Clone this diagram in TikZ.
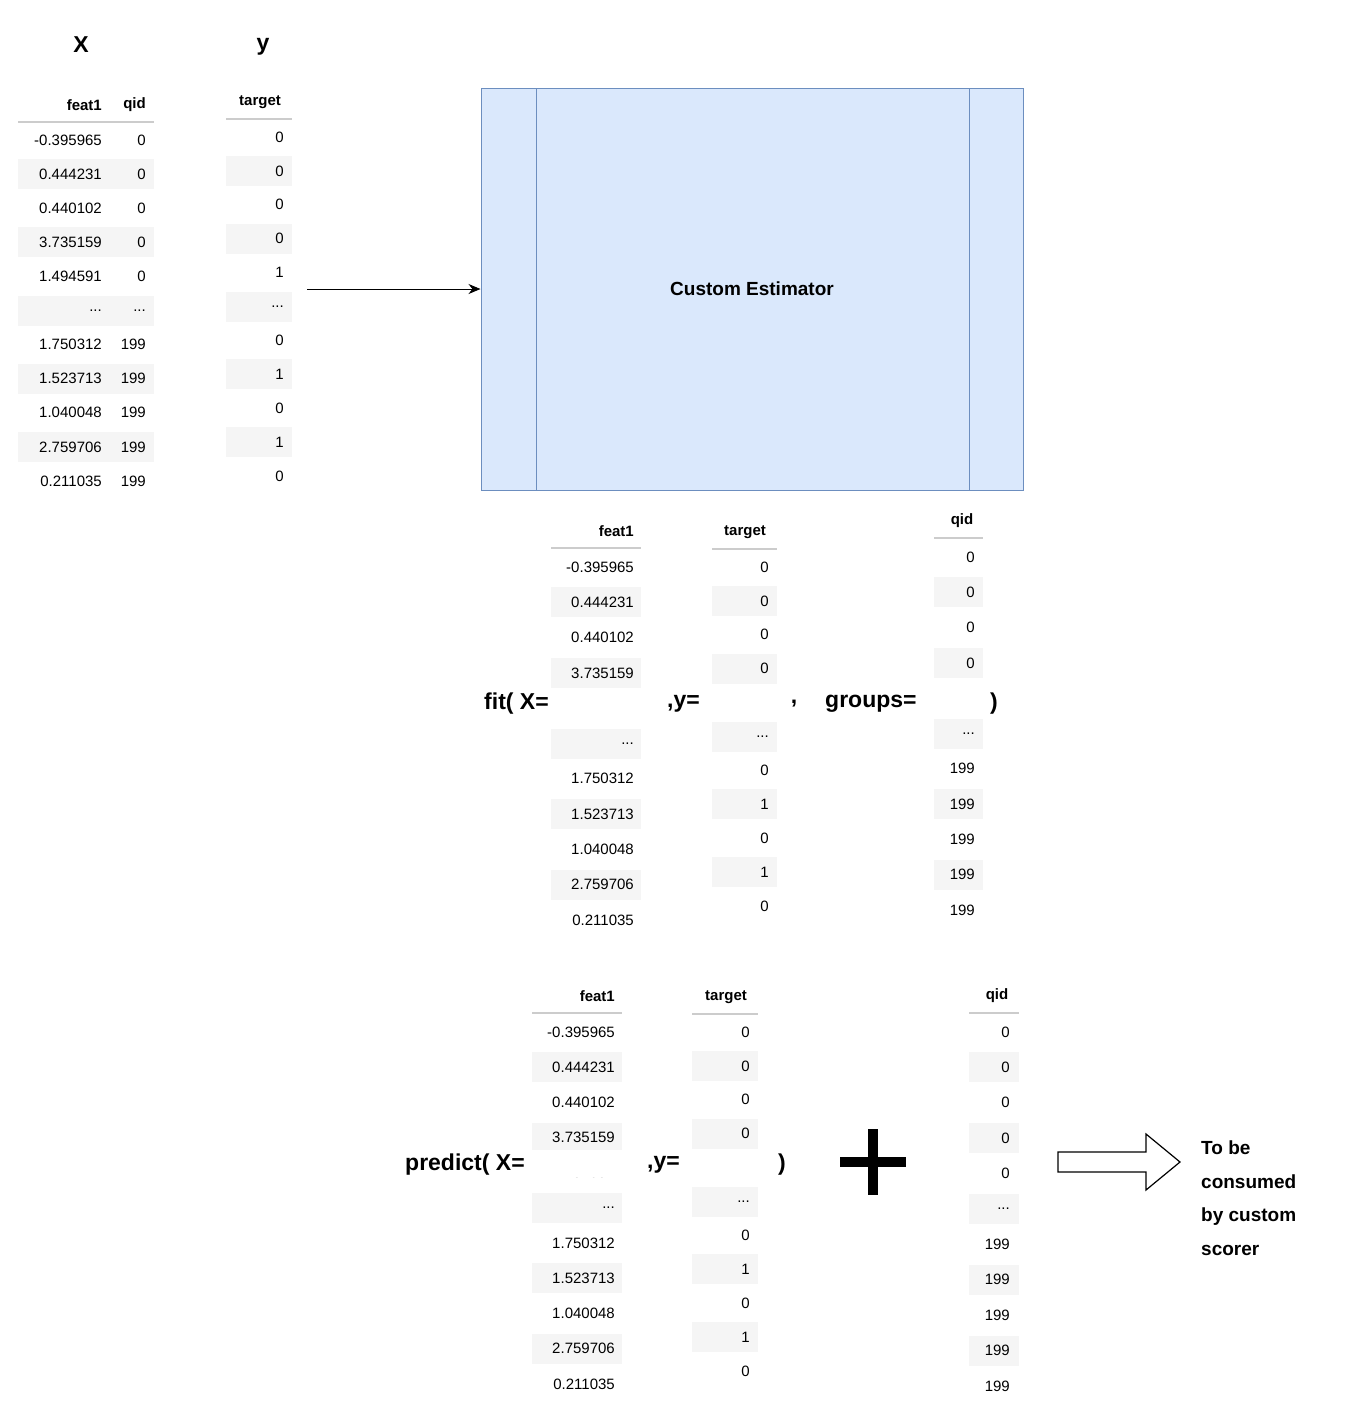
\documentclass[tikz,border=0pt]{standalone}
\usepackage{fontspec}
\setmainfont{Liberation Sans}
\usetikzlibrary{arrows.meta}
\definecolor{stripe}{HTML}{F5F5F5}
\definecolor{boxfill}{HTML}{DAE8FC}
\definecolor{boxline}{HTML}{6C8EBF}
\newcommand{\tdots}{...}
\newcommand{\mytbl}[7]{%
 \foreach \v [count=\i] in {#6} {
   \pgfmathsetmacro{\yy}{#3+(\i-1)*#4}
   \ifodd\i\else \fill[stripe] (#1,\yy-15) rectangle (#2,\yy+15);\fi
   \node[cell,anchor=east] at (#5,\yy) {\v};
 }
 \draw[gray!40,line width=1.2pt] (#1,#7) -- (#2,#7);
}
\begin{document}
\begin{tikzpicture}[x=1pt,y=-1pt,
 cell/.style={font=\fontsize{15}{17}\selectfont,inner sep=0pt},
 hdr/.style={font=\fontsize{15}{17}\selectfont\bfseries,inner sep=0pt},
 big/.style={font=\fontsize{23}{26}\selectfont\bfseries,inner sep=0pt}]
\useasboundingbox[fill=white] (0,0) rectangle (1358,1414);
% top tables
\node[big] (X) at (81,45) {X};
\node[big] (Y) at (263,47) {y};
\node[hdr,anchor=east] at (102,105) {feat1};
\node[hdr,anchor=east] at (146,105) {qid};
\mytbl{18}{154}{140}{34.1}{102}{-0.395965,0.444231,0.440102,3.735159,1.494591,\tdots,1.750312,1.523713,1.040048,2.759706,0.211035}{122}
\foreach \v [count=\i] in {0,0,0,0,0,\tdots,199,199,199,199,199}
  \node[cell,anchor=east] at (146,{140+(\i-1)*34.1}) {\v};
\node[hdr] at (260,102) {target};
\mytbl{226}{292}{137}{33.9}{284}{0,0,0,0,1,\tdots,0,1,0,1,0}{119}
% estimator
\node[draw=boxline,fill=boxfill,line width=1pt,minimum width=542,minimum height=402,inner sep=0pt] (est) at (752,289) {};
\draw[boxline,line width=1pt] (536,88) -- (536,490) (969,88) -- (969,490);
\node[font=\fontsize{19}{22}\selectfont\bfseries] at (752,289) {Custom Estimator};
\coordinate (src) at (307,289);
\draw[-{Stealth[length=12pt,width=10pt]},line width=1pt] (src) -- (est.west);
% fit tables
\node[hdr,anchor=east] at (634,531) {feat1};
\mytbl{551}{641}{567}{35.3}{634}{-0.395965,0.444231,0.440102,3.735159,1.494591,\tdots,1.750312,1.523713,1.040048,2.759706,0.211035}{548}
\node[hdr] at (745,532) {target};
\mytbl{712}{777}{567}{33.9}{769}{0,0,0,0,1,\tdots,0,1,0,1,0}{549}
\node[hdr] at (962,521) {qid};
\mytbl{934}{983}{557}{35.3}{975}{0,0,0,0,0,\tdots,199,199,199,199,199}{538}
\fill[white] (478,689) rectangle (1002,719);
\node[big,anchor=west] (fit) at (484,704) {fit( X=};
\node[big,anchor=west] at (667,704) {,y=};
\node[big] at (794,704) {,};
\node[big,anchor=west] at (825,704) {groups=};
\node[big] at (994,704) {)};
% predict tables
\node[hdr,anchor=east] at (615,996) {feat1};
\mytbl{532}{622}{1032}{35.2}{615}{-0.395965,0.444231,0.440102,3.735159,1.494591,\tdots,1.750312,1.523713,1.040048,2.759706,0.211035}{1013}
\node[hdr] at (726,997) {target};
\mytbl{692}{758}{1032}{33.9}{750}{0,0,0,0,1,\tdots,0,1,0,1,0}{1014}
\node[hdr] at (997,996) {qid};
\mytbl{969}{1019}{1032}{35.4}{1010}{0,0,0,0,0,\tdots,199,199,199,199,199}{1013}
\fill[white] (400,1150) rectangle (792,1177);
\node[big,anchor=west] (pred) at (405,1165) {predict( X=};
\node[big,anchor=west] at (647,1165) {,y=};
\node[big] at (782,1165) {)};
% plus
\draw[line width=10pt] (840,1162) -- (906,1162) (873,1129) -- (873,1195);
% hollow arrow
\draw[line width=1.2pt,fill=white] (1058,1152) -- (1146,1152) -- (1146,1134) -- (1180,1162) -- (1146,1190) -- (1146,1172) -- (1058,1172) -- cycle;
\node[font=\fontsize{19}{33.5}\selectfont\bfseries,align=left,anchor=north west,inner sep=0pt] (txt) at (1201,1141) {To be\\consumed\\by custom\\scorer};
\end{tikzpicture}
\end{document}
